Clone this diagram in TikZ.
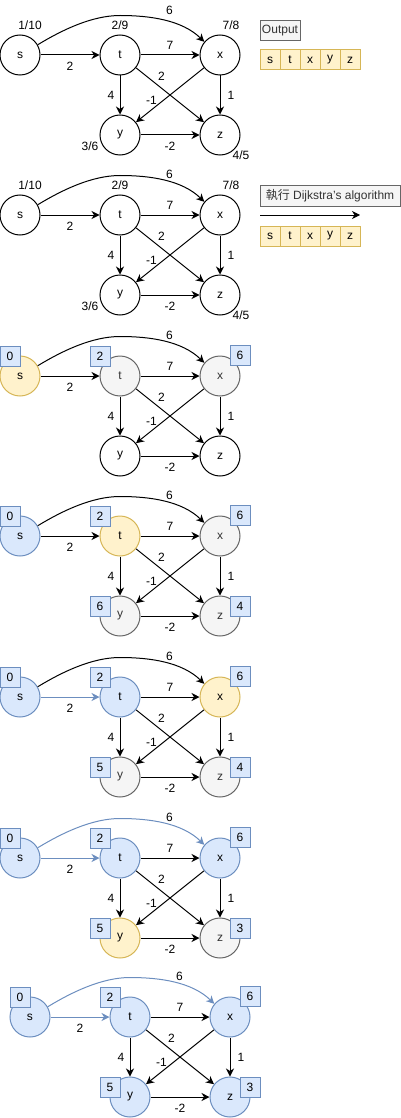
\documentclass[tikz,border=0pt]{standalone}
\usepackage{fontspec}
\setmainfont{Liberation Sans}
\newfontfamily\cjk{Noto Sans CJK TC}
\usetikzlibrary{arrows.meta}

\definecolor{bluefill}{HTML}{DAE8FC}
\definecolor{bluedraw}{HTML}{6C8EBF}
\definecolor{yelfill}{HTML}{FFF2CC}
\definecolor{yeldraw}{HTML}{D6B656}
\definecolor{grayfill}{HTML}{F5F5F5}
\definecolor{graydraw}{HTML}{666666}
\definecolor{graytext}{HTML}{333333}

\tikzset{
  vtx/.style={circle, draw, fill=white, minimum size=40pt, inner sep=0pt,
    font=\fontsize{12}{14}\selectfont},
  plainv/.style={},
  seenv/.style={draw=graydraw, fill=grayfill, text=graytext},
  curv/.style={draw=yeldraw, fill=yelfill},
  donev/.style={draw=bluedraw, fill=bluefill},
  vs/.style={plainv}, vt/.style={plainv}, vx/.style={plainv},
  vy/.style={plainv}, vz/.style={plainv},
  est/.style={}, esx/.style={},
  blueedge/.style={draw=bluedraw},
  wlbl/.style={font=\fontsize{12}{14}\selectfont, inner sep=0pt},
  vlbl/.style={font=\fontsize{12}{14}\selectfont, inner sep=0pt},
  lsix/.style={yshift=7pt},
  dbox/.style={draw=bluedraw, fill=bluefill, minimum size=20pt, inner sep=0pt,
    font=\fontsize{12}{14}\selectfont},
  cell/.style={draw=yeldraw, fill=yelfill, minimum size=20pt, inner sep=0pt,
    font=\fontsize{12}{14}\selectfont},
  info/.style={draw=graydraw, fill=grayfill, text=graytext, minimum height=20pt,
    inner sep=0pt, font=\fontsize{12}{14}\selectfont},
}

% one copy of the graph, nodes named s#1 ... z#1
\newcommand{\dgraph}[1]{%
  \node[vtx,vs] (s#1) at (20,55) {s};
  \node[vtx,vt] (t#1) at (120,55) {t};
  \node[vtx,vx] (x#1) at (220,55) {x};
  \node[vtx,vy] (y#1) at (120,135) {y};
  \node[vtx,vz] (z#1) at (220,135) {z};
  \draw[->,est] (s#1) -- node[wlbl,midway,yshift=-11pt] {2} (t#1);
  \draw[->,esx] (s#1.30) .. controls (62,30) and (92,15.5) .. (120,15.5)
    .. controls (150,15.5) and (182,20) .. node[wlbl,pos=0.55,lsix] {6} (x#1.140);
  \draw[->] (t#1) -- node[wlbl,midway,yshift=10pt] {7} (x#1);
  \draw[->] (t#1) -- node[wlbl,midway,xshift=-9pt] {4} (y#1);
  \draw[->] (t#1) -- node[wlbl,pos=0.3,xshift=5pt,yshift=8pt] {2} (z#1);
  \draw[->] (x#1) -- node[wlbl,pos=0.7,xshift=-5pt,yshift=6pt] {-1} (y#1);
  \draw[->] (x#1) -- node[wlbl,midway,xshift=11pt] {1} (z#1);
  \draw[->] (y#1) -- node[wlbl,midway,yshift=-11pt] {-2} (z#1);
}

\begin{document}
\begin{tikzpicture}[x=1pt, y=-1pt, line width=1pt,
    >={Stealth[length=8pt,width=8pt,inset=2.5pt]}]
  \useasboundingbox (0,0) rectangle (401,1118);

  % DFS times
  \begin{scope}[lsix/.style={yshift=11pt}]
    \dgraph{1}
    \node[vlbl] (ls1) at (30,25) {1/10};
    \node[vlbl] (lt1) at (120,25) {2/9};
    \node[vlbl] (lx1) at (231,25) {7/8};
    \node[vlbl] (ly1) at (90,146) {3/6};
    \node[vlbl] (lz1) at (241,155) {4/5};
    \node[info, minimum width=40pt] (out1) at (280,31) {Output};
    \node[cell] (c1s) at (270,60) {s};
    \node[cell] (c1t) at (290,60) {t};
    \node[cell] (c1x) at (310,60) {x};
    \node[cell] (c1y) at (330,60) {y};
    \node[cell] (c1z) at (350,60) {z};
  \end{scope}

  \begin{scope}[shift={(0,160)}]
    \dgraph{2}
    \node[vlbl] (ls2) at (30,25) {1/10};
    \node[vlbl] (lt2) at (120,25) {2/9};
    \node[vlbl] (lx2) at (231,25) {7/8};
    \node[vlbl] (ly2) at (90,146) {3/6};
    \node[vlbl] (lz2) at (241,155) {4/5};
    \node[info, minimum width=140pt] (run2) at (330,36) {{\cjk 執行} Dijkstra's algorithm};
    \coordinate (a2) at (260,55);
    \coordinate (b2) at (360,55);
    \draw[->] (a2) -- (b2);
    \node[cell] (c2s) at (270,76) {s};
    \node[cell] (c2t) at (290,76) {t};
    \node[cell] (c2x) at (310,76) {x};
    \node[cell] (c2y) at (330,76) {y};
    \node[cell] (c2z) at (350,76) {z};
  \end{scope}

  % Dijkstra steps
  \begin{scope}[shift={(0,321)}, vs/.style={curv}, vt/.style={seenv}, vx/.style={seenv}]
    \dgraph{3}
    \node[dbox] (ds3) at (10,35) {0};
    \node[dbox] (dt3) at (100,35) {2};
    \node[dbox] (dx3) at (240,34) {6};
  \end{scope}

  \begin{scope}[shift={(0,481)}, vs/.style={donev}, vt/.style={curv},
      vx/.style={seenv}, vy/.style={seenv}, vz/.style={seenv}]
    \dgraph{4}
    \node[dbox] (ds4) at (10,35) {0};
    \node[dbox] (dt4) at (100,35) {2};
    \node[dbox] (dx4) at (240,34) {6};
    \node[dbox] (dy4) at (100,125) {6};
    \node[dbox] (dz4) at (240,125) {4};
  \end{scope}

  \begin{scope}[shift={(0,642)}, vs/.style={donev}, vt/.style={donev},
      vx/.style={curv}, vy/.style={seenv}, vz/.style={seenv}, est/.style={blueedge}]
    \dgraph{5}
    \node[dbox] (ds5) at (10,35) {0};
    \node[dbox] (dt5) at (100,35) {2};
    \node[dbox] (dx5) at (240,34) {6};
    \node[dbox] (dy5) at (100,125) {5};
    \node[dbox] (dz5) at (240,125) {4};
  \end{scope}

  \begin{scope}[shift={(0,803)}, vs/.style={donev}, vt/.style={donev},
      vx/.style={donev}, vy/.style={curv}, vz/.style={seenv},
      est/.style={blueedge}, esx/.style={blueedge}]
    \dgraph{6}
    \node[dbox] (ds6) at (10,35) {0};
    \node[dbox] (dt6) at (100,35) {2};
    \node[dbox] (dx6) at (240,34) {6};
    \node[dbox] (dy6) at (100,125) {5};
    \node[dbox] (dz6) at (240,125) {3};
  \end{scope}

  \begin{scope}[shift={(10,962)}, vs/.style={donev}, vt/.style={donev},
      vx/.style={donev}, vy/.style={donev}, vz/.style={donev},
      est/.style={blueedge}, esx/.style={blueedge}]
    \dgraph{7}
    \node[dbox] (ds7) at (10,35) {0};
    \node[dbox] (dt7) at (100,35) {2};
    \node[dbox] (dx7) at (240,34) {6};
    \node[dbox] (dy7) at (100,125) {5};
    \node[dbox] (dz7) at (240,125) {3};
  \end{scope}
\end{tikzpicture}
\end{document}
